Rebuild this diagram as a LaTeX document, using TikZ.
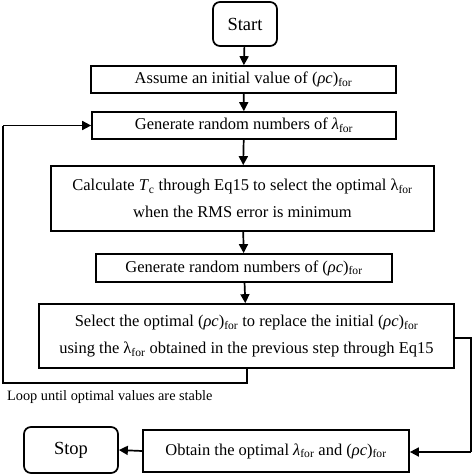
\documentclass[tikz,border=0pt]{standalone}
\usepackage{fontspec}
\setmainfont{Liberation Serif}
\usetikzlibrary{arrows.meta}
\newcommand\fr{\textsubscript{for}}
\newcommand\rc{(\textit{ρc})\fr}
\begin{document}
\begin{tikzpicture}[x=1pt,y=-1pt,
  box/.style={draw,line width=1.7pt,minimum width=#1,inner sep=0pt,align=center,font=\fontsize{16.5}{27}\selectfont},
  rbox/.style={box=#1,rounded corners=7pt,font=\fontsize{18.5}{22}\selectfont},
  arr/.style={line width=1.7pt,-{Triangle[length=9pt,width=9pt]}},
  ln/.style={line width=1.7pt}]
\useasboundingbox (0,0) rectangle (474,474);
\node[rbox=64pt,minimum height=44pt] (start) at (245,24) {Start};
\node[box=305pt,minimum height=27pt] (b1) at (243.5,79.5) {Assume an initial value of \rc};
\node[box=304pt,minimum height=27pt] (b2) at (244,125.5) {Generate random numbers of \textit{λ}\fr};
\node[box=383pt,minimum height=65pt] (b3) at (242.5,198.5) {Calculate \textit{T}\textsubscript{c} through Eq15 to select the optimal λ\fr\\when the RMS error is minimum};
\node[box=296pt,minimum height=28pt] (b4) at (244,268) {Generate random numbers of \rc};
\node[box=415pt,minimum height=64pt] (b5) at (246.5,336) {Select the optimal \rc{} to replace the initial \rc\\using the λ\fr{} obtained in the previous step through Eq15};
\node[box=266pt,minimum height=42pt] (b6) at (276,451) {Obtain the optimal \textit{λ}\fr{} and \rc};
\node[rbox=94pt,minimum height=46pt] (stop) at (71,450) {Stop};
\node[anchor=west,inner sep=0pt,font=\fontsize{14.3}{16}\selectfont] (lbl) at (7,397) {Loop until optimal values are stable};
\draw[arr] (start) -- (b1);
\draw[arr] (b1) -- (b2);
\draw[arr] (b2) -- (b3);
\draw[arr] (b3) -- (b4);
\draw[arr] (b4) -- (b5);
\coordinate (l1) at (247,383);
\coordinate (l2) at (3,383);
\coordinate (l3) at (3,125.5);
\draw[ln] (b5.south -| l1) -- (l1) -- (l2) -- (l3);
\draw[arr] (l3) -- (b2.west);
\coordinate (r1) at (471,338);
\coordinate (r2) at (471,452);
\draw[ln] (b5.east |- r1) -- (r1) -- (r2);
\draw[arr] (r2) -- (r2 -| b6.east);
\draw[arr] (b6.west) -- (stop.east);
\end{tikzpicture}
\end{document}
